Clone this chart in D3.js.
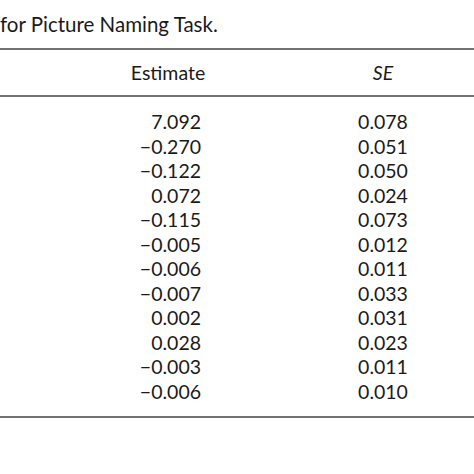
<!DOCTYPE html>
<html><head><meta charset="utf-8">
<script src="https://cdn.jsdelivr.net/npm/d3@7"></script>
<style>body{margin:0;background:#fff}</style>
</head><body>
<svg id="t" width="474" height="474"></svg>
<script>
const title = "for Picture Naming Task.";
const headers = ["Estimate", "SE"];
const estimates = ["7.092", "−0.270", "−0.122", "0.072", "−0.115", "−0.005", "−0.006", "−0.007", "0.002", "0.028", "−0.003", "−0.006"];
const ses = ["0.078", "0.051", "0.050", "0.024", "0.073", "0.012", "0.011", "0.033", "0.031", "0.023", "0.011", "0.010"];

const svg = d3.select("#t");
const font = "Lato, 'Open Sans', sans-serif";
const fs = 19.5;
const y = d3.scalePoint().domain(d3.range(estimates.length)).range([129, 399]);

svg.append("text").attr("x", 0).attr("y", 32).attr("font-family", font)
  .attr("font-size", 20.5).attr("fill", "#1a1a1a").text(title);

[49, 96, 417].forEach(ly => svg.append("line").attr("x1", 0).attr("x2", 474)
  .attr("y1", ly).attr("y2", ly).attr("stroke", "#444").attr("stroke-width", 1.3));

svg.append("text").attr("x", 168).attr("y", 80).attr("text-anchor", "middle")
  .attr("font-family", font).attr("font-size", fs).attr("fill", "#1a1a1a").text(headers[0]);
svg.append("text").attr("x", 383).attr("y", 80).attr("text-anchor", "middle")
  .attr("font-family", font).attr("font-size", fs).attr("font-style", "italic").attr("fill", "#1a1a1a").text(headers[1]);

svg.selectAll(".est").data(estimates).join("text").attr("class", "est")
  .attr("x", 201).attr("y", (d, i) => y(i)).attr("text-anchor", "end")
  .attr("font-family", font).attr("font-size", fs).attr("fill", "#1a1a1a").text(d => d);
svg.selectAll(".se").data(ses).join("text").attr("class", "se")
  .attr("x", 383).attr("y", (d, i) => y(i)).attr("text-anchor", "middle")
  .attr("font-family", font).attr("font-size", fs).attr("fill", "#1a1a1a").text(d => d);
</script>
</body></html>
